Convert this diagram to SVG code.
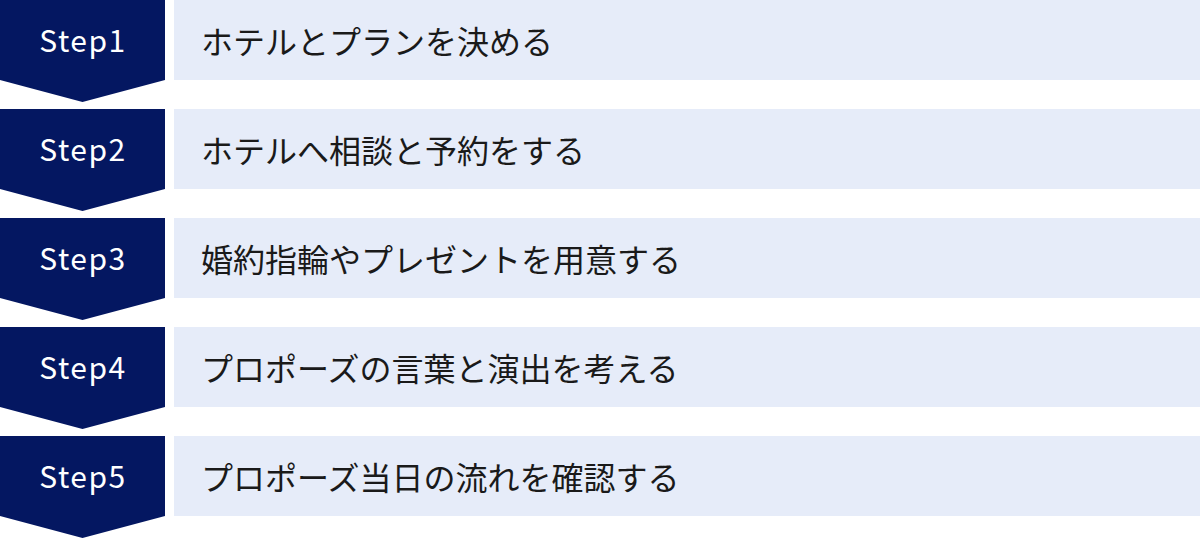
<svg xmlns="http://www.w3.org/2000/svg" width="1200" height="538" viewBox="0 0 1200 538">
<style>
.chev{fill:#041761}
.box{fill:#E6ECF9}
.step{fill:#ffffff;font-family:"Noto Sans CJK JP","Noto Sans",sans-serif;font-size:30px;letter-spacing:1.5px;text-anchor:middle}
.lbl{fill:#1a1a1a;font-family:"Noto Sans CJK JP","Noto Sans",sans-serif;font-size:32px}
</style>
<rect width="1200" height="538" fill="#ffffff"/>
<g id="step1">
<path class="chev" d="M0 0H165V80L82.5 102L0 80Z"/>
<rect class="box" x="174" y="0" width="1026" height="80"/>
<text class="step" x="83" y="51.5">Step1</text>
<text class="lbl" x="201" y="53.5">ホテルとプランを決める</text>
</g>
<g id="step2">
<path class="chev" d="M0 109H165V189L82.5 211L0 189Z"/>
<rect class="box" x="174" y="109" width="1026" height="80"/>
<text class="step" x="83" y="160.5">Step2</text>
<text class="lbl" x="201" y="162.5">ホテルへ相談と予約をする</text>
</g>
<g id="step3">
<path class="chev" d="M0 218H165V298L82.5 320L0 298Z"/>
<rect class="box" x="174" y="218" width="1026" height="80"/>
<text class="step" x="83" y="269.5">Step3</text>
<text class="lbl" x="201" y="271.5">婚約指輪やプレゼントを用意する</text>
</g>
<g id="step4">
<path class="chev" d="M0 327H165V407L82.5 429L0 407Z"/>
<rect class="box" x="174" y="327" width="1026" height="80"/>
<text class="step" x="83" y="378.5">Step4</text>
<text class="lbl" x="201" y="380.5">プロポーズの言葉と演出を考える</text>
</g>
<g id="step5">
<path class="chev" d="M0 436H165V516L82.5 538L0 516Z"/>
<rect class="box" x="174" y="436" width="1026" height="80"/>
<text class="step" x="83" y="487.5">Step5</text>
<text class="lbl" x="201" y="489.5">プロポーズ当日の流れを確認する</text>
</g>
<g id="connectors"></g>
</svg>
